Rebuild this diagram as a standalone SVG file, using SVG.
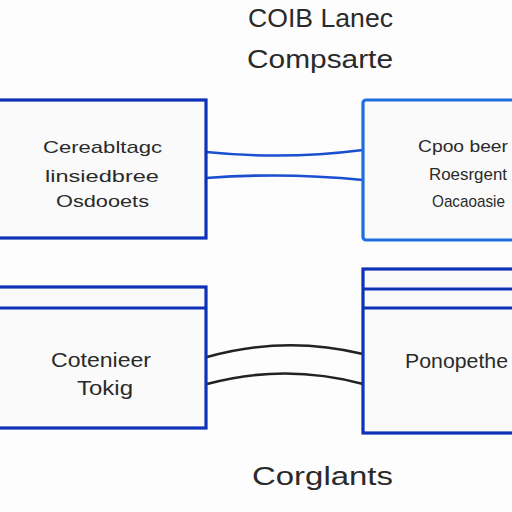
<svg xmlns="http://www.w3.org/2000/svg" width="512" height="512" viewBox="0 0 512 512">
<style>
.t{font-family:"Liberation Sans",Arial,sans-serif;fill:#2a2a2a}
.bx{fill:#fafafa;stroke-width:3.2}
.dk{stroke:#0d32b8}
.lt{stroke:#1f6ee0}
.cn{fill:none;stroke-width:2.6}
</style>
<rect width="512" height="512" fill="#fdfdfd"/>
<g id="title">
<text class="t" x="248" y="27" font-size="26" textLength="145" lengthAdjust="spacingAndGlyphs">COIB Lanec</text>
<text class="t" x="247" y="68" font-size="26" textLength="146" lengthAdjust="spacingAndGlyphs">Compsarte</text>
</g>
<g id="connectors">
<path class="cn" stroke="#1a4fcf" d="M206 152 Q285 160 363 150"/>
<path class="cn" stroke="#1a4fcf" d="M206 178 Q285 172 363 180"/>
<path class="cn" stroke="#222" d="M207 357 Q285 335 363 354"/>
<path class="cn" stroke="#222" d="M207 384 Q285 363 363 384"/>
</g>
<g id="node-top-left">
<rect class="bx dk" x="-5" y="100" width="211" height="138"/>
<text class="t" x="43" y="153" font-size="17" textLength="119" lengthAdjust="spacingAndGlyphs">Cereabltagc</text>
<text class="t" x="45" y="182" font-size="17" textLength="114" lengthAdjust="spacingAndGlyphs">linsiedbree</text>
<text class="t" x="56" y="207" font-size="17" textLength="93" lengthAdjust="spacingAndGlyphs">Osdooets</text>
</g>
<g id="node-top-right">
<rect class="bx lt" x="363" y="100" width="160" height="140" rx="3"/>
<text class="t" x="418" y="152" font-size="17" textLength="90" lengthAdjust="spacingAndGlyphs">Cpoo beer</text>
<text class="t" x="429" y="180" font-size="17" textLength="78" lengthAdjust="spacingAndGlyphs">Roesrgent</text>
<text class="t" x="432" y="207" font-size="17" textLength="73" lengthAdjust="spacingAndGlyphs">Oacaoasie</text>
</g>
<g id="node-bottom-left">
<rect class="bx dk" x="-5" y="287" width="211" height="141"/>
<line class="dk" stroke-width="3.2" x1="-5" y1="308" x2="206" y2="308"/>
<text class="t" x="51" y="367" font-size="20" textLength="100" lengthAdjust="spacingAndGlyphs">Cotenieer</text>
<text class="t" x="77" y="395" font-size="20" textLength="56" lengthAdjust="spacingAndGlyphs">Tokig</text>
</g>
<g id="node-bottom-right">
<rect class="bx dk" x="363" y="269" width="160" height="164"/>
<line class="dk" stroke-width="3.2" x1="363" y1="289" x2="523" y2="289"/>
<line class="dk" stroke-width="3.2" x1="363" y1="308" x2="523" y2="308"/>
<text class="t" x="405" y="368" font-size="20" textLength="103" lengthAdjust="spacingAndGlyphs">Ponopethe</text>
</g>
<g id="footer">
<text class="t" x="252" y="485" font-size="25" textLength="141" lengthAdjust="spacingAndGlyphs">Corglants</text>
</g>
</svg>
